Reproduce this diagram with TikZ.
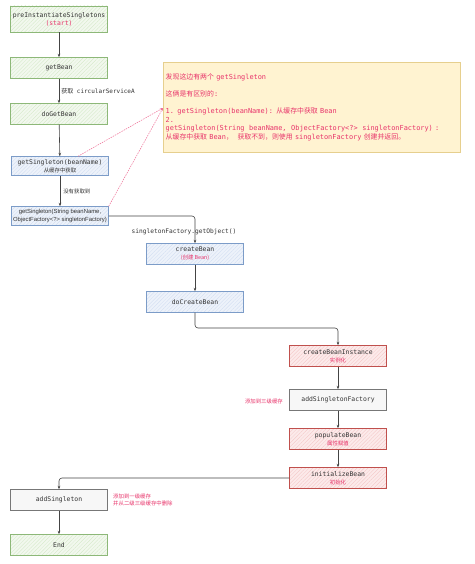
\documentclass[tikz,border=0pt]{standalone}
\usepackage{fontspec}
\setmainfont{Liberation Sans}
\setmonofont{DejaVu Sans Mono}
\newfontfamily\cjk{Noto Sans CJK SC}
\usetikzlibrary{arrows.meta,patterns.meta}

\definecolor{linegray}{HTML}{444444}
\definecolor{txtgray}{HTML}{333333}
\definecolor{redtext}{HTML}{E8336A}
\definecolor{greenline}{HTML}{8DB878}
\definecolor{greenfill}{HTML}{F2F8EE}
\definecolor{greenhatch}{HTML}{D3E8C6}
\definecolor{blueline}{HTML}{7C9CC8}
\definecolor{bluefill}{HTML}{EDF2FA}
\definecolor{bluehatch}{HTML}{CFDCF1}
\definecolor{redline}{HTML}{C0504D}
\definecolor{redfill}{HTML}{FCEAEA}
\definecolor{redhatch}{HTML}{F3C4C4}
\definecolor{grayline}{HTML}{777777}
\definecolor{grayfill}{HTML}{F7F7F7}
\definecolor{notefill}{HTML}{FFF3D1}
\definecolor{noteline}{HTML}{E6CF8E}

\newcommand{\zh}[1]{{\cjk #1}}
\newcommand{\zhs}[1]{{\cjk\fontsize{5.4}{7}\selectfont #1}}

\begin{document}
\begin{tikzpicture}[x=1pt, y=-1pt,
    box/.style={rectangle, minimum width=97pt, minimum height=21pt, inner sep=1pt,
      align=center, text=txtgray, font=\ttfamily\fontsize{6.4}{8}\selectfont},
    greenbox/.style={box, draw=greenline, preaction={fill=greenfill},
      pattern={Lines[angle=45,distance=2.6pt,line width=.3pt]}, pattern color=greenhatch},
    bluebox/.style={box, draw=blueline, preaction={fill=bluefill},
      pattern={Lines[angle=45,distance=2.6pt,line width=.3pt]}, pattern color=bluehatch},
    redbox/.style={box, draw=redline, preaction={fill=redfill},
      pattern={Lines[angle=45,distance=2.6pt,line width=.3pt]}, pattern color=redhatch},
    graybox/.style={box, draw=grayline, fill=grayfill},
    flow/.style={draw=linegray, line width=.6pt, -{Stealth[length=3.5pt,width=2.6pt]}},
    notelink/.style={draw=redtext!70, line width=.5pt, dashed, dash pattern=on 1.5pt off 1pt,
      -{Stealth[length=3pt,width=2.4pt]}},
    lbl/.style={text=txtgray, font=\ttfamily\fontsize{6}{7.5}\selectfont, inner sep=1pt},
    redlbl/.style={text=redtext, font=\cjk\fontsize{5.4}{7}\selectfont, inner sep=1pt, align=left}]

  \fill[white] (0,0) rectangle (474,564);
  \useasboundingbox (0,0) rectangle (474,564);

  \node[greenbox, minimum height=26pt] (start) at (59,19)
    {preInstantiateSingletons\\{\color{redtext}(start)}};
  \node[greenbox] (getbean) at (59,68) {getBean};
  \node[greenbox] (dogetbean) at (59,114) {doGetBean};
  \node[bluebox, minimum height=19pt] (gsone) at (60,166)
    {getSingleton(beanName)\\\zhs{从缓存中获取}};
  \node[bluebox, minimum height=19pt, font=\rmfamily\fontsize{5.9}{7.2}\selectfont] (gstwo) at (60,216)
    {getSingleton(String beanName,\\ObjectFactory<?> singletonFactory)};
  \node[bluebox] (createbean) at (195,254)
    {createBean\\\zhs{\color{redtext}(创建 Bean)}};
  \node[bluebox] (docreatebean) at (195,302) {doCreateBean};
  \node[redbox] (instance) at (338,356)
    {createBeanInstance\\\zhs{\color{redtext}实例化}};
  \node[graybox] (addfactory) at (338,400) {addSingletonFactory};
  \node[redbox] (populate) at (338,439)
    {populateBean\\\zhs{\color{redtext}属性赋值}};
  \node[redbox] (initialize) at (338,478)
    {initializeBean\\\zhs{\color{redtext}初始化}};
  \node[graybox] (addsingleton) at (59,500) {addSingleton};
  \node[greenbox] (end) at (59,545) {End};

  \node[draw=noteline, fill=notefill, anchor=north west, minimum width=297pt, minimum height=90pt,
    text width=292pt, inner sep=2pt, align=left, text=redtext,
    font=\ttfamily\fontsize{6.9}{8.6}\selectfont] (note) at (163,62)
    {\zh{发现这边有两个} getSingleton\\[8.6pt]
     \zh{这俩是有区别的}:\\[8.6pt]
     1. getSingleton(beanName): \zh{从缓存中获取} Bean\\
     2.\\
     getSingleton(String~~beanName,~~ObjectFactory<?>~~singletonFactory)~:\\
     \zh{从缓存中获取} Bean\zh{，}~~\zh{获取不到，则使用} singletonFactory \zh{创建并返回。}};
  \coordinate (tip) at (163,108);

  \draw[flow] (start) -- (getbean);
  \draw[flow] (getbean) -- node[lbl, right=1pt] {\zh{获取} circularServiceA} (dogetbean);
  \draw[flow] (dogetbean) -- (gsone);
  \draw[flow] (gsone) -- node[redlbl, text=txtgray, right=2pt] {没有获取到} (gstwo);
  \draw[flow, rounded corners=3pt] (gstwo.east) -| (createbean.north);
  \node[lbl, font=\ttfamily\fontsize{6.2}{7.5}\selectfont] (getobject) at (184,232)
    {singletonFactory.getObject()};
  \draw[flow] (createbean) -- (docreatebean);
  \coordinate (bend) at (266,328);
  \draw[flow, rounded corners=3pt] (docreatebean.south) |- (bend) -| (instance.north);
  \draw[flow] (instance) -- (addfactory);
  \node[redlbl, anchor=east] (lblthree) at (284,401) {添加到三级缓存};
  \draw[flow] (addfactory) -- (populate);
  \draw[flow] (populate) -- (initialize);
  \draw[flow, rounded corners=3pt] (initialize.west) -| (addsingleton.north);
  \node[redlbl, anchor=west] (lblone) at (112,500) {添加到一级缓存\\并从二级三级缓存中删除};
  \draw[flow] (addsingleton) -- (end);

  \draw[notelink] ([xshift=18pt]gsone.north) -- (tip);
  \draw[notelink] (gstwo.north east) -- (tip);
\end{tikzpicture}
\end{document}
